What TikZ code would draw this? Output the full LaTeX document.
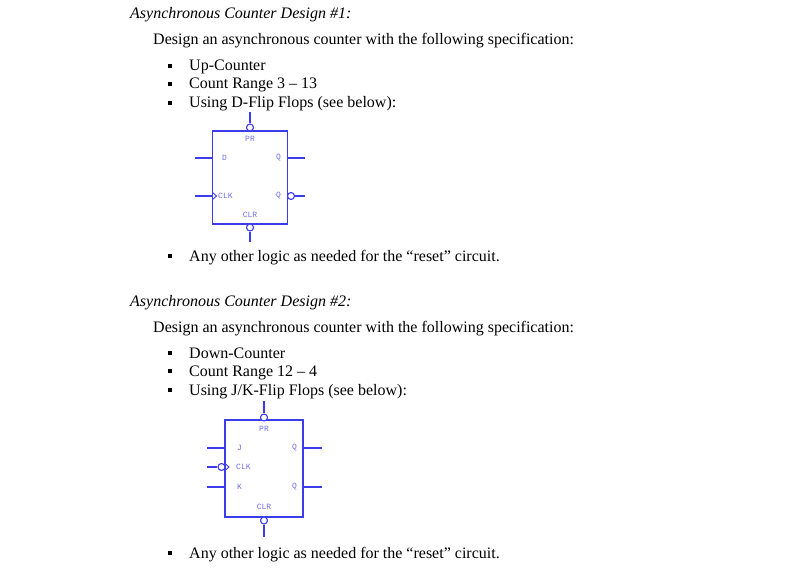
\documentclass[tikz,border=0pt]{standalone}
\usepackage{fontspec}
\setmainfont{Liberation Serif}
\setmonofont{Liberation Mono}
\definecolor{ffblue}{RGB}{60,60,235}
\definecolor{fftext}{RGB}{110,110,235}
\begin{document}
\begin{tikzpicture}[x=1pt,y=-1pt,
  txt/.style={anchor=base west,inner sep=0pt,font=\fontsize{16}{18}\selectfont},
  bul/.style={fill=black,minimum size=4.5pt,inner sep=0pt},
  ff/.style={draw=ffblue,line width=1.2pt},
  pin/.style={draw=ffblue,line width=1.3pt},
  bub/.style={circle,draw=ffblue,fill=white,line width=1.1pt,minimum size=7pt,inner sep=0pt},
  lab/.style={text=fftext,font=\ttfamily\fontsize{8}{9}\selectfont,inner sep=0pt}]
\useasboundingbox (0,0) rectangle (786,577);
% ---- Design 1
\node[txt,font=\itshape\fontsize{16}{18}\selectfont] (h1) at (130,19) {Asynchronous Counter Design \#1:};
\node[txt] (d1) at (153,45) {Design an asynchronous counter with the following specification:};
\foreach \y/\t [count=\i] in {71/{Up-Counter},89/{Count Range 3 -- 13},108/{Using D-Flip Flops (see below):},261/{Any other logic as needed for the ``reset'' circuit.}}{
  \node[bul] (b1\i) at (170,\y-5) {};
  \node[txt] (t1\i) at (189,\y) {\t};
}
% FF1
\node[ff,minimum width=75pt,minimum height=93pt,inner sep=0pt] (f1) at (250,177.5) {};
\node[bub] (f1pr) at (250,127.5) {};
\draw[pin] (f1pr.north) -- (250,112);
\node[bub] (f1clr) at (250,227.5) {};
\draw[pin] (f1clr.south) -- (250,242);
\draw[pin] (195,158) -- (212.5,158);
\draw[pin] (195,196) -- (212.5,196);
\draw[ffblue,line width=0.9pt] (212.5,192.5) -- (216.5,196) -- (212.5,199.5);
\draw[pin] (287.5,158) -- (305,158);
\node[bub] (f1qb) at (291,196) {};
\draw[pin] (f1qb.east) -- (305,196);
\node[lab] at (250,139) {PR};
\node[lab] at (250,215) {CLR};
\node[lab,anchor=west] at (222,158) {D};
\node[lab,anchor=west] at (218,196) {CLK};
\node[lab,anchor=east] at (281,158) {Q};
\node[lab,anchor=east] at (281,196) {Q};
% ---- Design 2
\node[txt,font=\itshape\fontsize{16}{18}\selectfont] (h2) at (130,306) {Asynchronous Counter Design \#2:};
\node[txt] (d2) at (153,332) {Design an asynchronous counter with the following specification:};
\foreach \y/\t [count=\i] in {358/{Down-Counter},376/{Count Range 12 -- 4},395/{Using J/K-Flip Flops (see below):},558/{Any other logic as needed for the ``reset'' circuit.}}{
  \node[bul] (b2\i) at (170,\y-5) {};
  \node[txt] (t2\i) at (189,\y) {\t};
}
% FF2
\node[ff,minimum width=78pt,minimum height=97pt,inner sep=0pt] (f2) at (264,468.5) {};
\node[bub] (f2pr) at (264,417.5) {};
\draw[pin] (f2pr.north) -- (264,401);
\node[bub] (f2clr) at (264,520.5) {};
\draw[pin] (f2clr.south) -- (264,537);
\draw[pin] (207,448) -- (225,448);
\draw[pin] (207,487) -- (225,487);
\node[bub] (f2ck) at (221.5,467) {};
\draw[pin] (207,467) -- (f2ck.west);
\draw[ffblue,line width=0.9pt] (225,463.5) -- (229,467) -- (225,470.5);
\draw[pin] (303,448) -- (322,448);
\draw[pin] (303,487) -- (322,487);
\node[lab] at (264,429) {PR};
\node[lab] at (264,507) {CLR};
\node[lab,anchor=west] at (237,448) {J};
\node[lab,anchor=west] at (236,467) {CLK};
\node[lab,anchor=west] at (237,487) {K};
\node[lab,anchor=east] at (297,448) {Q};
\node[lab,anchor=east] at (297,487) {Q};
\end{tikzpicture}
\end{document}
